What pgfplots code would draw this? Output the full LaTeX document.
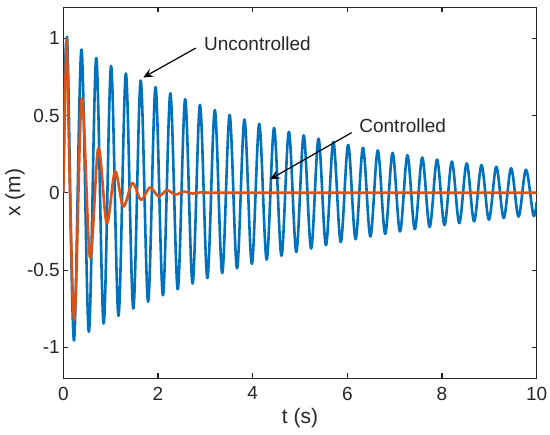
\documentclass[border=0pt]{standalone}
\usepackage{fontspec}
\setmainfont{Liberation Sans}
\usepackage{pgfplots}
\pgfplotsset{compat=1.18}
\usetikzlibrary{arrows.meta}
\definecolor{mblue}{RGB}{0,114,189}
\definecolor{morange}{RGB}{217,83,25}
\definecolor{axgray}{RGB}{38,38,38}

\begin{document}
\begin{tikzpicture}
\path[use as bounding box] (0,0) rectangle (550pt,435pt);
\begin{axis}[
    at={(63.3pt,56.7pt)}, anchor=south west,
    scale only axis, width=473.4pt, height=371pt,
    xmin=0, xmax=10, ymin=-1.2, ymax=1.2,
    xtick={0,2,...,10}, ytick={-1,-0.5,0,0.5,1},
    axis line style={axgray, line width=1.1pt},
    tick style={axgray, line width=1.1pt},
    major tick length=5pt,
    tick align=inside,
    /pgf/number format/assume math mode=true,
    ticklabel style={font=\fontsize{19}{22}\selectfont, text=axgray},
    xticklabel style={yshift=-5pt},
    xlabel={t (s)}, ylabel={x (m)},
    label style={font=\fontsize{21}{25}\selectfont, text=axgray},
    xlabel style={at={(axis description cs:0.5,-0.107)}, anchor=center},
    ylabel style={at={(axis description cs:-0.102,0.5)}, anchor=center},
]
% uncontrolled response: extremes
\addplot[mblue, line width=2.6pt, line join=round, smooth, tension=0.55] coordinates {
    (0,0) (0.04,0.81) (0.07,0.9849) (0.10,0.81)
    (0.2265,-0.9554) (0.383,0.9267) (0.5395,-0.8989) (0.696,0.8719)
    (0.8525,-0.8458) (1.009,0.8204) (1.1655,-0.7958) (1.322,0.7719)
    (1.4785,-0.7488) (1.635,0.7263) (1.7915,-0.7045) (1.948,0.6834)
    (2.1045,-0.6629) (2.261,0.6430) (2.4175,-0.6237) (2.574,0.6050)
    (2.7305,-0.5869) (2.887,0.5693) (3.0435,-0.5522) (3.200,0.5356)
    (3.3565,-0.5196) (3.513,0.5040) (3.6695,-0.4889) (3.826,0.4742)
    (3.9825,-0.4600) (4.139,0.4462) (4.2955,-0.4328) (4.452,0.4198)
    (4.6085,-0.4072) (4.765,0.3950) (4.9215,-0.3832) (5.078,0.3717)
    (5.2345,-0.3605) (5.391,0.3497) (5.5475,-0.3392) (5.704,0.3290)
    (5.8605,-0.3192) (6.017,0.3096) (6.1735,-0.3003) (6.330,0.2913)
    (6.4865,-0.2826) (6.643,0.2741) (6.7995,-0.2659) (6.956,0.2579)
    (7.1125,-0.2502) (7.269,0.2427) (7.4255,-0.2354) (7.582,0.2283)
    (7.7385,-0.2215) (7.895,0.2148) (8.0515,-0.2084) (8.208,0.2021)
    (8.3645,-0.1961) (8.521,0.1902) (8.6775,-0.1845) (8.834,0.1790)
    (8.9905,-0.1736) (9.147,0.1684) (9.3035,-0.1633) (9.460,0.1584)
    (9.6165,-0.1537) (9.773,0.1491) (9.9295,-0.1446) (10,-0.06)
};
% controlled response: steep first rise, then damped swings
\addplot[morange, line width=2.6pt, line join=round] coordinates {
    (0,0) (0.03,0.5) (0.06,0.95) (0.075,1.0)
};
\addplot[morange, line width=2.6pt, line join=round, smooth, tension=0.55] coordinates {
    (0.075,1.0)
    (0.228,-0.82) (0.39,0.61) (0.565,-0.42) (0.74,0.29)
    (0.917,-0.196) (1.092,0.138) (1.267,-0.089) (1.458,0.063)
    (1.641,-0.045) (1.831,0.034) (2.01,-0.022) (2.19,0.016)
    (2.37,-0.011) (2.55,0.008) (2.73,-0.005) (2.91,0.003)
    (3.1,0) (3.3,0) (3.5,0) (10,0)
};
\draw[black, line width=1.2pt, -{Stealth[length=10pt,width=9pt,inset=4pt]}]
    (axis cs:2.797,0.936) -- (axis cs:1.69,0.746);
\draw[black, line width=1.2pt, -{Stealth[length=10pt,width=9pt,inset=4pt]}]
    (axis cs:6.09,0.389) -- (axis cs:4.366,0.087);
\node[anchor=west, inner sep=0pt, font=\fontsize{19}{22}\selectfont, text=axgray]
    at (axis cs:2.97,0.962) {Uncontrolled};
\node[anchor=west, inner sep=0pt, font=\fontsize{19}{22}\selectfont, text=axgray]
    at (axis cs:6.25,0.433) {Controlled};
\end{axis}
\end{tikzpicture}
\end{document}
